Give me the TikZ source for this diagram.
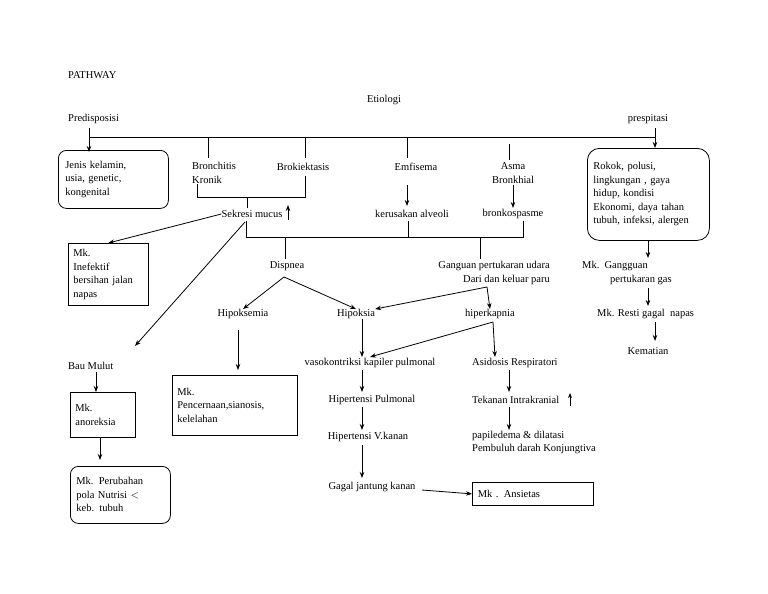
\documentclass[tikz,border=0pt]{standalone}
\usepackage{fontspec}
\setmainfont{Liberation Serif}
\usetikzlibrary{arrows.meta}
\begin{document}
\begin{tikzpicture}[x=1pt,y=-1pt,
  every node/.style={font=\fontsize{10.5}{13.5}\selectfont,inner sep=0pt},
  t/.style={align=left},
  ln/.style={draw=black,line width=0.8pt},
  ar/.style={ln,-{Stealth[length=6pt,width=4.5pt]}},
  box/.style={draw,line width=0.8pt,align=left,inner sep=6pt,anchor=north west}]
\useasboundingbox (0,0) rectangle (768,594);
% titles
\node[anchor=west] (path) at (68,75) {PATHWAY};
\node (etio) at (384,100) {Etiologi};
\node[anchor=west] (pre) at (68,119) {Predisposisi};
\node (presp) at (648,119) {prespitasi};
% top bar
\coordinate (bl) at (89,137); \coordinate (br) at (655,137);
\draw[ln] (bl) -- (br);
\draw[ar] (89,128) -- (89,152);
\draw[ar] (655,128) -- (655,148);
% left / right boxes
\node[box,rounded corners=8pt,minimum width=110pt,minimum height=58pt,text width=96pt] (jenis) at (58,150) {Jenis kelamin,\\usia, genetic,\\kongenital};
\node[box,rounded corners=12pt,minimum width=122pt,minimum height=92pt,text width=110pt,inner sep=5pt,anchor=north west] (rokok) at (587,148) {Rokok, polusi,\\lingkungan ,\ gaya\\hidup, kondisi\\Ekonomi, daya tahan\\tubuh, infeksi, alergen};
% etiologi nodes
\node[anchor=west,align=left] (bron) at (192,173) {Bronchitis\\Kronik};
\node (brok) at (303,167) {Brokiektasis};
\node (emf) at (416,167) {Emfisema};
\node[align=center] (asma) at (513,173) {Asma\\Bronkhial};
\draw[ln] (208,137) -- (208,158);
\draw[ln] (305,137) -- (305,158);
\draw[ln] (407,137) -- (407,158);
\draw[ln] (509,144) -- (509,160);
% upper bracket
\coordinate (ub1) at (197,197); \coordinate (ub2) at (305,197);
\draw[ln] (197,184) -- (ub1) -- (ub2) -- (305,176);
\node (sekr) at (252,214) {Sekresi mucus};
\draw[ln] (247,197) -- (247,208);
\draw[ar] (288,220) -- (288,205);
\node (keru) at (412,214) {kerusakan alveoli};
\node (bsp) at (513,214) {bronkospasme};
\draw[ar] (407,185) -- (407,206);
\draw[ar] (513,185) -- (513,208);
% lower bracket
\coordinate (lb1) at (246,237); \coordinate (lb2) at (523,237);
\draw[ln] (246,221) -- (lb1) -- (lb2) -- (523,221);
\draw[ln] (408,221) -- (408,237);
\draw[ln] (285,237) -- (285,259);
\draw[ln] (480,237) -- (480,259);
\node (disp) at (287,266) {Dispnea};
\node[align=right,anchor=east] (gang) at (550,273) {Ganguan pertukaran udara\\Dari dan keluar paru};
% Mk inefektif
\node[box,minimum width=80pt,minimum height=62pt,text width=70pt,inner sep=5pt] (inef) at (68,243) {Mk.\\Inefektif\\bersihan jalan\\napas};
\draw[ar] (sekr.west) -- (inef.north);
\coordinate (bau) at (135,346);
\draw[ar] (245,222) -- (bau);
% level hipoksia
\node (hse) at (243,314) {Hipoksemia};
\node (hsi) at (356,314) {Hipoksia};
\node (hkp) at (490,314) {hiperkapnia};
\draw[ar] (284,277) -- (hse.north);
\draw[ar] (284,277) -- (hsi.north);
\draw[ar] (487,287) -- (hsi.north east);
\draw[ar] (487,287) -- (hkp.north);
% right column
\node[anchor=west,align=left] (mkg) at (582,273) {Mk.\ \ Gangguan\\\hspace*{28pt}pertukaran gas};
\draw[ar] (648,240) -- (648,258);
\node[anchor=west] (resti) at (597,314) {Mk. Resti gagal\ \ napas};
\draw[ar] (648,288) -- (648,306);
\node (kem) at (648,351) {Kematian};
\draw[ar] (655,322) -- (655,341);
% left lower
\node[anchor=west] (baum) at (68,366) {Bau Mulut};
\node[box,minimum width=65pt,minimum height=45pt,text width=55pt,inner sep=5pt] (anor) at (70,392) {Mk.\\anoreksia};
\draw[ar] (96,372) -- (anor.north -| 96,0);
\node[box,rounded corners=8pt,minimum width=100pt,minimum height=57pt,text width=88pt,inner sep=6pt] (nutr) at (70,466) {Mk. Perubahan\\pola Nutrisi $<$\\keb. tubuh};
\draw[ar] (100,437) -- (100,460);
\node[box,minimum width=125pt,minimum height=60pt,text width=115pt,inner sep=5pt] (pnc) at (172,375) {Mk.\\Pencernaan,sianosis,\\kelelahan};
\draw[ar] (238,330) -- (238,370);
% centre column
\node (vaso) at (370,363) {vasokontriksi kapiler pulmonal};
\node[anchor=west] (asid) at (472,363) {Asidosis Respiratori};
\draw[ar] (hsi.south -| 362,0) -- (362,357);
\draw[ar] (493,322) -- (370,357);
\draw[ar] (493,322) -- (495,357);
\node (hpul) at (372,400) {Hipertensi Pulmonal};
\node[anchor=west] (tek) at (472,400) {Tekanan Intrakranial};
\draw[ar] (362,370) -- (362,392);
\draw[ar] (509,370) -- (509,392);
\draw[-{Stealth[length=5pt,width=4pt]},line width=0.8pt] (570,406) -- (570,393);
\node (hvk) at (368,437) {Hipertensi V.kanan};
\node[anchor=north west,align=left] (papi) at (472,431) {papiledema \& dilatasi\\Pembuluh darah Konjungtiva};
\draw[ar] (362,407) -- (362,430);
\draw[ar] (509,407) -- (509,430);
\node (gagal) at (372,487) {Gagal jantung kanan};
\draw[ar] (362,445) -- (362,478);
\node[box,minimum width=121pt,minimum height=23pt,text width=110pt,inner sep=5pt] (ans) at (472,482) {Mk . Ansietas};
\draw[ar] (422,490) -- (ans.west);
\end{tikzpicture}
\end{document}
